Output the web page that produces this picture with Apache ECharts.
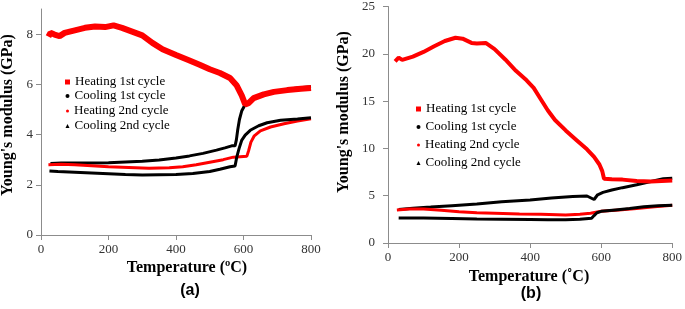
<!DOCTYPE html>
<html>
<head>
<meta charset="utf-8">
<script src="https://cdn.jsdelivr.net/npm/echarts@6/dist/echarts.min.js"></script>
<style>
  html, body { margin: 0; padding: 0; background: #fff; }
  #chart { width: 685px; height: 309px; }
</style>
</head>
<body>
<div id="chart"></div>
<script>
var seriesNames = ['Heating 1st cycle', 'Cooling 1st cycle', 'Heating 2nd cycle', 'Cooling 2nd cycle'];
var xTicks = [0, 200, 400, 600, 800];
var yTicksA = [0, 2, 4, 6, 8];
var yTicksB = [0, 5, 10, 15, 20, 25];

// (a) temperature (C), modulus (GPa)
var heat1A = [[22,7.9],[28,8.05],[40,7.98],[55,7.92],[70,8.05],[100,8.15],[130,8.25],[160,8.3],[190,8.28],[215,8.35],[240,8.25],[270,8.1],[300,7.95],[330,7.65],[360,7.4],[400,7.17],[440,6.95],[470,6.78],[500,6.6],[530,6.45],[560,6.25],[580,5.95],[595,5.55],[605,5.2],[615,5.25],[630,5.45],[660,5.6],[690,5.7],[730,5.77],[770,5.82],[800,5.85]];
var cool1A = [[800,5.9],[760,5.85],[720,5.78],[680,5.68],[650,5.55],[625,5.4],[605,5.2],[595,4.95],[588,4.6],[583,4.2],[579,3.8],[575,3.55],[565,3.55],[545,3.47],[520,3.38],[480,3.25],[440,3.15],[400,3.07],[350,2.99],[300,2.94],[250,2.91],[200,2.88],[150,2.87],[100,2.87],[60,2.87],[28,2.85]];
var heat2A = [[22,2.8],[60,2.82],[100,2.8],[150,2.76],[200,2.72],[260,2.69],[320,2.66],[380,2.68],[420,2.72],[460,2.8],[500,2.9],[540,3.0],[570,3.1],[590,3.12],[610,3.14],[615,3.35],[622,3.7],[632,3.95],[650,4.15],[680,4.3],[720,4.43],[760,4.54],[800,4.63]];
var cool2A = [[800,4.67],[760,4.62],[710,4.57],[670,4.47],[645,4.35],[620,4.17],[605,3.98],[595,3.78],[587,3.45],[580,3.1],[575,2.75],[560,2.72],[530,2.62],[500,2.53],[450,2.45],[400,2.41],[350,2.4],[300,2.39],[250,2.41],[200,2.44],[150,2.47],[100,2.5],[50,2.53],[25,2.55]];

// (b)
var heat1B = [[20,19.2],[30,19.6],[40,19.35],[70,19.7],[100,20.2],[130,20.8],[160,21.35],[190,21.7],[210,21.6],[235,21.15],[250,21.1],[275,21.15],[300,20.5],[330,19.4],[360,18.2],[390,17.2],[410,16.4],[430,15.2],[450,14],[470,13],[500,11.9],[530,10.9],[560,9.9],[580,9.1],[595,8.3],[603,7.6],[608,6.8],[630,6.75],[660,6.7],[700,6.55],[740,6.5],[770,6.55],[800,6.6]];
var cool1B = [[800,6.85],[775,6.8],[740,6.5],[700,6.15],[660,5.85],[630,5.6],[605,5.35],[590,5.1],[580,4.6],[575,4.7],[560,4.97],[520,4.92],[460,4.75],[400,4.55],[320,4.35],[250,4.12],[180,3.95],[120,3.8],[70,3.68],[30,3.55]];
var heat2B = [[25,3.5],[60,3.6],[100,3.6],[150,3.45],[200,3.3],[250,3.2],[300,3.15],[370,3.07],[430,3.05],[500,2.95],[540,3.05],[570,3.15],[600,3.35],[650,3.5],[700,3.65],[750,3.82],[800,4.0]];
var cool2B = [[800,4.0],[760,3.95],[720,3.82],[680,3.65],[640,3.5],[600,3.35],[588,3.2],[580,2.9],[573,2.62],[540,2.5],[500,2.45],[450,2.45],[400,2.48],[320,2.52],[250,2.55],[180,2.6],[100,2.63],[30,2.65]];

var colors = ['#ff0000', '#000000', '#ff0000', '#000000'];
var widths = [6, 3, 3, 3];
var icons = ['rect', 'circle', 'circle', 'triangle'];
var iconSizes = [5, 4, 3, 4];

var serif = 'Liberation Serif';
var axisGrey = '#8c8c8c';

function xAxisFor(idx) {
  return {
    type: 'value', gridIndex: idx, min: 0, max: 800, interval: 200,
    axisLine: { lineStyle: { color: axisGrey, width: 1 } },
    axisTick: { length: 5, lineStyle: { color: axisGrey } },
    axisLabel: { margin: 8, fontFamily: serif, fontSize: 13, color: '#333' },
    splitLine: { show: false }
  };
}

function yAxisFor(idx, max, ticks, margin) {
  return {
    type: 'value', gridIndex: idx, min: 0, max: max,
    axisLine: { show: true, lineStyle: { color: axisGrey, width: 1 } },
    axisTick: { show: true, length: 5, lineStyle: { color: axisGrey }, customValues: ticks },
    axisLabel: { margin: margin, fontFamily: serif, fontSize: 13, color: '#333', customValues: ticks },
    splitLine: { show: false }
  };
}

var dataA = [heat1A, cool1A, heat2A, cool2A];
var dataB = [heat1B, cool1B, heat2B, cool2B];
var series = [];
[dataA, dataB].forEach(function (set, g) {
  set.forEach(function (d, i) {
    series.push({
      name: seriesNames[i], type: 'line', xAxisIndex: g, yAxisIndex: g,
      data: d, showSymbol: false, symbol: 'none', smooth: false,
      color: colors[i],
      lineStyle: { color: colors[i], width: g === 0 ? widths[i] : (i === 0 ? 4 : 3) },
      z: i === 0 ? 3 : 2
    });
  });
});

// one legend per entry so each row sits where it does in the figure
var legends = [];
var legendRows = [
  { left: 65, centers: [82, 96, 111, 126] },
  { left: 416, centers: [109, 127, 145, 163] }
];
legendRows.forEach(function (row) {
  seriesNames.forEach(function (n, i) {
    legends.push({
      left: row.left + (5 - iconSizes[i]) / 2,
      top: row.centers[i] - 7,
      data: [{ name: n, icon: icons[i] }],
      itemWidth: iconSizes[i], itemHeight: iconSizes[i],
      itemTextGap: 5 + (5 - iconSizes[i]) / 2, padding: 0,
      itemStyle: { borderWidth: 0 },
      selectedMode: false,
      textStyle: { fontFamily: serif, fontSize: 13, lineHeight: 14, color: '#000' }
    });
  });
});

function label(txt, x, y, font, rot) {
  return {
    type: 'text', x: x, y: y, rotation: rot || 0,
    style: { text: txt, font: font, fill: '#000', align: 'center', verticalAlign: 'middle' }
  };
}

var option = {
  animation: false,
  backgroundColor: '#fff',
  grid: [
    { left: 41, top: 9, width: 270, height: 226 },
    { left: 388, top: 6, width: 286, height: 237 }
  ],
  xAxis: [xAxisFor(0), xAxisFor(1)],
  yAxis: [yAxisFor(0, 9, yTicksA, 8), yAxisFor(1, 25, yTicksB, 13)],
  legend: legends,
  graphic: [
    label("Young's modulus (GPa)", 8, 115, 'bold 16px "Liberation Serif"', Math.PI / 2),
    label("Young's modulus (GPa)", 344, 112, 'bold 16px "Liberation Serif"', Math.PI / 2),
    label('Temperature (\u00baC)', 187, 268, 'bold 16px "Liberation Serif"'),
    label('Temperature (\u02daC)', 529, 277, 'bold 16px "Liberation Serif"'),
    label('(a)', 190, 291, 'bold 16px "Liberation Sans"'),
    label('(b)', 531, 294, 'bold 16px "Liberation Sans"')
  ],
  series: series
};

echarts.init(document.getElementById('chart')).setOption(option);
</script>
</body>
</html>
